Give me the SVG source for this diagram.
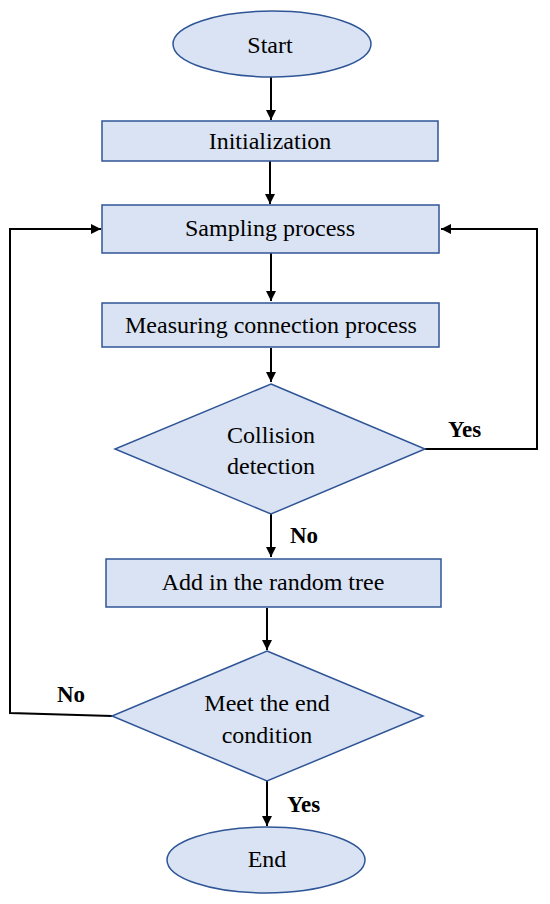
<svg xmlns="http://www.w3.org/2000/svg" width="550" height="904" viewBox="0 0 550 904">
<defs>
<marker id="arr" viewBox="0 0 10 10" refX="10" refY="5" markerWidth="10" markerHeight="10" markerUnits="userSpaceOnUse" orient="auto">
<path d="M0,0 L10,5 L0,10 z" fill="#000"/>
</marker>
</defs>
<style>
.n{fill:#dae3f3;stroke:#2f5597;stroke-width:1.5}
.t{font-family:'Liberation Serif','DejaVu Serif',serif;font-size:24px;fill:#000;text-anchor:middle}
.l{font-family:'Liberation Serif','DejaVu Serif',serif;font-size:23px;font-weight:bold;fill:#000}
.c{fill:none;stroke:#000;stroke-width:2}
</style>
<rect width="550" height="904" fill="#fff"/>
<g id="connectors">
<line class="c" x1="271" y1="77" x2="271" y2="120" marker-end="url(#arr)"/>
<line class="c" x1="270" y1="161" x2="270" y2="204" marker-end="url(#arr)"/>
<line class="c" x1="271" y1="252" x2="271" y2="301" marker-end="url(#arr)"/>
<line class="c" x1="271" y1="348" x2="271" y2="382" marker-end="url(#arr)"/>
<polyline class="c" points="425,449 537,449 537,229 441,229" marker-end="url(#arr)"/>
<line class="c" x1="271" y1="514" x2="271" y2="557" marker-end="url(#arr)"/>
<line class="c" x1="267" y1="608" x2="267" y2="650" marker-end="url(#arr)"/>
<polyline class="c" points="112,716 10,713 10,229 101,229" marker-end="url(#arr)"/>
<line class="c" x1="267" y1="781" x2="267" y2="826" marker-end="url(#arr)"/>
<text class="l" x="448" y="437">Yes</text>
<text class="l" x="290" y="543">No</text>
<text class="l" x="57" y="702">No</text>
<text class="l" x="287" y="812">Yes</text>
</g>
<g id="start">
<ellipse class="n" cx="272" cy="44" rx="99" ry="33"/>
<text class="t" x="270" y="53">Start</text>
</g>
<g id="init">
<rect class="n" x="102" y="121" width="336" height="40"/>
<text class="t" x="270" y="149">Initialization</text>
</g>
<g id="sampling">
<rect class="n" x="102" y="205" width="337" height="48"/>
<text class="t" x="270" y="236">Sampling process</text>
</g>
<g id="measuring">
<rect class="n" x="102" y="303" width="337" height="44"/>
<text class="t" x="271" y="333">Measuring connection process</text>
</g>
<g id="collision">
<polygon class="n" points="271,384 425,449 271,514 115,449"/>
<text class="t" x="271" y="443">Collision</text>
<text class="t" x="271" y="474">detection</text>
</g>
<g id="add">
<rect class="n" x="106" y="559" width="335" height="48"/>
<text class="t" x="273" y="590">Add in the random tree</text>
</g>
<g id="meet">
<polygon class="n" points="267,651 423,716 267,781 112,716"/>
<text class="t" x="267" y="711">Meet the end</text>
<text class="t" x="267" y="743">condition</text>
</g>
<g id="end">
<ellipse class="n" cx="266" cy="860" rx="99" ry="33"/>
<text class="t" x="267" y="867">End</text>
</g>
</svg>
